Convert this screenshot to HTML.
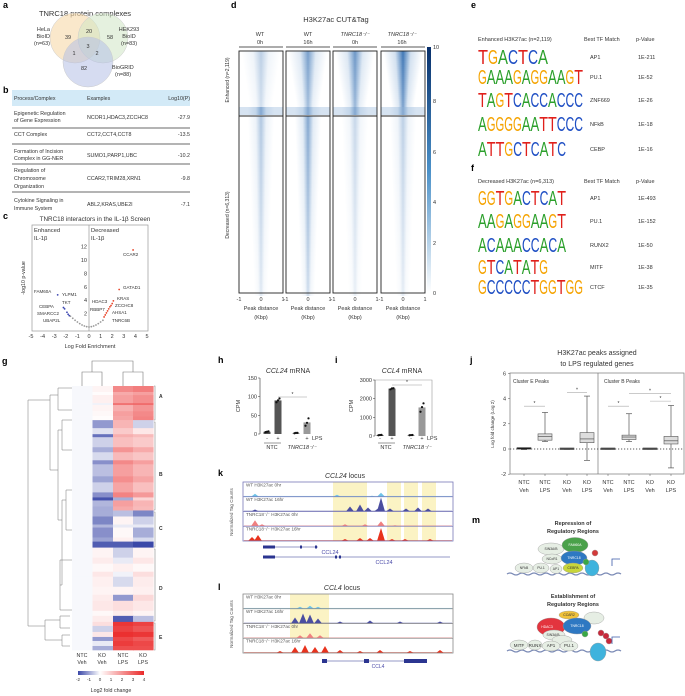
<!DOCTYPE html>
<html><head><meta charset="utf-8"><style>
html,body{margin:0;padding:0;background:#fff}
svg{display:block;font-family:"Liberation Sans",sans-serif}
</style></head><body>
<svg id="fig" width="685" height="696" viewBox="0 0 685 696" xmlns="http://www.w3.org/2000/svg">
<defs>
<linearGradient id="hg" x1="0" x2="1" y1="0" y2="0">
<stop offset="0" stop-color="#2a6db5" stop-opacity="0"/><stop offset="0.3" stop-color="#2a6db5" stop-opacity="0.25"/><stop offset="0.5" stop-color="#1f5fa8" stop-opacity="1"/><stop offset="0.7" stop-color="#2a6db5" stop-opacity="0.25"/><stop offset="1" stop-color="#2a6db5" stop-opacity="0"/>
</linearGradient>
<linearGradient id="cbar" x1="0" x2="0" y1="0" y2="1"><stop offset="0" stop-color="#08306b"/><stop offset="0.5" stop-color="#4a90c8"/><stop offset="1" stop-color="#ffffff"/></linearGradient>
<linearGradient id="gbar" x1="0" x2="1"><stop offset="0" stop-color="#3b48a8"/><stop offset="0.333" stop-color="#ffffff"/><stop offset="1" stop-color="#ea2a2a"/></linearGradient>
</defs>

<g font-size="5.5" fill="#333">
<text x="3" y="8" font-size="9" font-weight="bold" fill="#000">a</text>
<text x="85" y="16" font-size="7.5" text-anchor="middle">TNRC18 protein complexes</text>
<circle cx="75" cy="38" r="25" fill="#f6d9a8" fill-opacity="0.6" stroke="#ccc" stroke-width="0.5"/>
<circle cx="103" cy="38" r="25" fill="#cfe6c4" fill-opacity="0.55" stroke="#ccc" stroke-width="0.5"/>
<circle cx="88" cy="62" r="25" fill="#b5c0e6" fill-opacity="0.55" stroke="#ccc" stroke-width="0.5"/>
<text x="50" y="31" text-anchor="end">HeLa</text><text x="50" y="38" text-anchor="end">BioID</text><text x="50" y="45" text-anchor="end">(n=63)</text>
<text x="129" y="31" text-anchor="middle">HEK293</text><text x="129" y="38" text-anchor="middle">BioID</text><text x="129" y="45" text-anchor="middle">(n=83)</text>
<text x="68" y="39" text-anchor="middle">39</text><text x="89" y="33" text-anchor="middle">20</text><text x="110" y="39" text-anchor="middle">58</text>
<text x="74" y="55" text-anchor="middle">1</text><text x="88" y="48" text-anchor="middle">3</text><text x="97" y="55" text-anchor="middle">2</text>
<text x="84" y="70" text-anchor="middle">82</text><text x="112" y="69">BioGRID</text><text x="115" y="76">(n=88)</text>
</g>

<g font-size="5.3" fill="#333">
<text x="3" y="93" font-size="9" font-weight="bold" fill="#000">b</text>
<rect x="12" y="90" width="178" height="16" fill="#d3eaf7"/>
<text x="14" y="100">Process/Complex</text><text x="87" y="100">Examples</text><text x="190" y="100" text-anchor="end">Log10(P)</text>
<text x="14" y="115">Epigenetic Regulation</text><text x="14" y="122">of Gene Expression</text><text x="87" y="119">NCOR1,HDAC3,ZCCHC8</text><text x="190" y="119" text-anchor="end">-27.9</text>
<line x1="12" y1="128" x2="190" y2="128" stroke="#888" stroke-width="1.2"/>
<text x="14" y="136">CCT Complex</text><text x="87" y="136">CCT2,CCT4,CCT8</text><text x="190" y="136" text-anchor="end">-13.5</text>
<line x1="12" y1="144" x2="190" y2="144" stroke="#888" stroke-width="1.2"/>
<text x="14" y="153">Formation of Incision</text><text x="14" y="160">Complex in GG-NER</text><text x="87" y="157">SUMO1,PARP1,UBC</text><text x="190" y="157" text-anchor="end">-10.2</text>
<line x1="12" y1="164" x2="190" y2="164" stroke="#888" stroke-width="1.2"/>
<text x="14" y="172">Regulation of</text><text x="14" y="180">Chromosome</text><text x="14" y="188">Organization</text><text x="87" y="180">CCAR2,TRIM28,XRN1</text><text x="190" y="180" text-anchor="end">-9.8</text>
<line x1="12" y1="192" x2="190" y2="192" stroke="#888" stroke-width="1.2"/>
<text x="14" y="202">Cytokine Signaling in</text><text x="14" y="210">Immune System</text><text x="87" y="206">ABL2,KRAS,UBE2I</text><text x="190" y="206" text-anchor="end">-7.1</text>
</g>

<g id="volcano" font-size="5" fill="#333">
<text x="3" y="219" font-size="9" font-weight="bold" fill="#000">c</text>
<text x="95" y="221" font-size="6.3" text-anchor="middle">TNRC18 interactors in the IL-1β Screen</text>
<rect x="32" y="225" width="116" height="106" fill="none" stroke="#999" stroke-width="0.7"/>
<line x1="89" y1="225" x2="89" y2="331" stroke="#999" stroke-width="0.7"/>
<text x="34" y="232" font-size="5.8">Enhanced</text><text x="34" y="240" font-size="5.8">IL-1β</text>
<text x="91" y="232" font-size="5.8">Decreased</text><text x="91" y="240" font-size="5.8">IL-1β</text>
<text x="25" y="278" font-size="5.3" text-anchor="middle" transform="rotate(-90 25 278)">-log10 p-value</text>
<text x="90" y="348" font-size="5.5" text-anchor="middle">Log Fold Enrichment</text>
<g font-size="4.5">
<text x="123" y="256">CCAR2</text><text x="123" y="289">GATAD1</text><text x="117" y="300">KRAS</text><text x="115" y="307">ZCCHC8</text>
<text x="92" y="303">HDAC3</text><text x="90" y="311">RBBP7</text><text x="112" y="314">AHSA1</text><text x="112" y="322">TNRC6B</text>
<text x="34" y="293">FAM60A</text><text x="62" y="296">YLPM1</text><text x="62" y="304">TKT</text>
<text x="39" y="308">CEBPA</text><text x="37" y="315">SMARCC2</text><text x="43" y="322">UBAP2L</text>
</g>
</g>

<g id="heatg" font-size="5.3" fill="#333">
<text x="2" y="364" font-size="9" font-weight="bold" fill="#000">g</text>
<g stroke="#777" stroke-width="0.6" fill="none">
<path d="M92 372 V361 H133 V372"/><path d="M82 386 V372 H102 V386"/><path d="M123 386 V372 H143 V386"/>
</g>
<g stroke="#777" stroke-width="0.5" fill="none">
<path d="M50 400 H28 V626 H45"/><path d="M50 400 V395 H58 M50 400 V470 H58"/>
<path d="M58 395 V388 H66 M58 395 V410 H66"/><path d="M58 470 V430 H62 M58 470 V520 H62"/>
<path d="M62 430 V420 H68 M62 430 V450 H68"/><path d="M62 520 V500 H66 M62 520 V585 H60"/>
<path d="M66 500 V490 H70 M66 500 V530 H70"/><path d="M60 585 V560 H66 M60 585 V610 H66"/>
<path d="M45 626 V620 H60 M45 626 V640 H62"/><path d="M60 620 V616 H70 M60 620 V628 H70"/><path d="M62 640 V635 H70 M62 640 V646 H70"/>
<path d="M66 388 H72 M66 410 H72 M68 420 H72 M68 450 H72 M70 490 H72 M70 530 H72 M66 560 H72 M66 610 H72"/>
</g>
<text x="82" y="657" text-anchor="middle">NTC</text><text x="82" y="664" text-anchor="middle">Veh</text>
<text x="102" y="657" text-anchor="middle">KO</text><text x="102" y="664" text-anchor="middle">Veh</text>
<text x="123" y="657" text-anchor="middle">NTC</text><text x="123" y="664" text-anchor="middle">LPS</text>
<text x="143" y="657" text-anchor="middle">KO</text><text x="143" y="664" text-anchor="middle">LPS</text>
<rect x="78" y="671" width="66" height="4" fill="url(#gbar)"/>
<g font-size="4.5" text-anchor="middle"><text x="78" y="681">-2</text><text x="89" y="681">-1</text><text x="100" y="681">0</text><text x="111" y="681">1</text><text x="122" y="681">2</text><text x="133" y="681">3</text><text x="144" y="681">4</text></g>
<text x="111" y="692" text-anchor="middle">Log2 fold change</text>
<g font-size="5" font-weight="bold" fill="#333"><text x="159" y="398">A</text><text x="159" y="476">B</text><text x="159" y="530">C</text><text x="159" y="590">D</text><text x="159" y="639">E</text></g>
<g stroke="#888" stroke-width="0.6" fill="none"><path d="M154 386 H155 V420 H154"/><path d="M154 422 H155 V510 H154"/><path d="M154 512 H155 V547 H154"/><path d="M154 549 H155 V621 H154"/><path d="M154 623 H155 V650 H154"/></g>
</g>

<g id="pd" font-size="5.5" fill="#333">
<text x="231" y="8" font-size="9" font-weight="bold" fill="#000">d</text>
<text x="336" y="22" font-size="7.5" text-anchor="middle">H3K27ac CUT&amp;Tag</text>
<text x="260" y="36" text-anchor="middle">WT</text><text x="260" y="44" text-anchor="middle">0h</text>
<text x="308" y="36" text-anchor="middle">WT</text><text x="308" y="44" text-anchor="middle">16h</text>
<text x="355" y="36" text-anchor="middle" font-style="italic">TNRC18⁻/⁻</text><text x="355" y="44" text-anchor="middle">0h</text>
<text x="402" y="36" text-anchor="middle" font-style="italic">TNRC18⁻/⁻</text><text x="402" y="44" text-anchor="middle">16h</text>
<text x="229" y="80" text-anchor="middle" font-size="5" transform="rotate(-90 229 80)">Enhanced (n=2,119)</text>
<text x="229" y="215" text-anchor="middle" font-size="5" transform="rotate(-90 229 215)">Decreased (n=6,313)</text>
<rect x="427" y="47" width="4" height="246" fill="url(#cbar)"/>
<g font-size="5.5"><text x="433" y="49">10</text><text x="433" y="103">8</text><text x="433" y="154">6</text><text x="433" y="204">4</text><text x="433" y="245">2</text><text x="433" y="295">0</text></g>
</g>

<g id="motifs" font-size="5.5" fill="#333">
<text x="471" y="8" font-size="9" font-weight="bold" fill="#000">e</text>
<text x="478" y="41">Enhanced H3K27ac (n=2,119)</text><text x="584" y="41">Best TF Match</text><text x="636" y="41">p-Value</text>
<text x="471" y="171" font-size="9" font-weight="bold" fill="#000">f</text>
<text x="478" y="183">Decreased H3K27ac (n=6,313)</text><text x="584" y="183">Best TF Match</text><text x="636" y="183">p-Value</text>
</g>

<g id="bars" font-size="5.5" fill="#333">
<text x="218" y="363" font-size="9" font-weight="bold" fill="#000">h</text>
<text x="288" y="373" font-size="7" text-anchor="middle"><tspan font-style="italic">CCL24</tspan> mRNA</text>
<text x="335" y="363" font-size="9" font-weight="bold" fill="#000">i</text>
<text x="402" y="373" font-size="7" text-anchor="middle"><tspan font-style="italic">CCL4</tspan> mRNA</text>
<text x="240" y="406" text-anchor="middle" transform="rotate(-90 240 406)">CPM</text>
<text x="353" y="406" text-anchor="middle" transform="rotate(-90 353 406)">CPM</text>
<text x="312" y="440">LPS</text><text x="427" y="440">LPS</text>
<text x="272" y="449" text-anchor="middle">NTC</text><text x="302" y="449" text-anchor="middle" font-style="italic">TNRC18⁻/⁻</text>
<text x="386" y="449" text-anchor="middle">NTC</text><text x="417" y="449" text-anchor="middle" font-style="italic">TNRC18⁻/⁻</text>
<line x1="264" y1="443" x2="281" y2="443" stroke="#333" stroke-width="0.5"/><line x1="378" y1="443" x2="395" y2="443" stroke="#333" stroke-width="0.5"/>
<path d="M375 380 H432 V436" fill="none" stroke="#999" stroke-width="0.6"/>
</g>

<g id="boxj" font-size="5.5" fill="#333">
<text x="470" y="363" font-size="9" font-weight="bold" fill="#000">j</text>
<text x="597" y="355" font-size="7" text-anchor="middle">H3K27ac peaks assigned</text>
<text x="597" y="366" font-size="7" text-anchor="middle">to LPS regulated genes</text>
<rect x="510" y="373" width="174" height="101" fill="none" stroke="#777" stroke-width="0.7"/>
<line x1="598" y1="373" x2="598" y2="474" stroke="#777" stroke-width="0.7"/>
<text x="513" y="383" font-size="5">Cluster E Peaks</text><text x="604" y="383" font-size="5">Cluster B Peaks</text>
<text x="494" y="424" font-size="4.5" text-anchor="middle" transform="rotate(-90 494 424)">Log fold change (Log 2)</text>
</g>

<g id="loci" font-size="4.6" fill="#555">
<text x="218" y="476" font-size="9" font-weight="bold" fill="#000">k</text>
<text x="345" y="478" font-size="7" text-anchor="middle" fill="#333"><tspan font-style="italic">CCL24</tspan> locus</text>
<text x="218" y="590" font-size="9" font-weight="bold" fill="#000">l</text>
<text x="342" y="590" font-size="7" text-anchor="middle" fill="#333"><tspan font-style="italic">CCL4</tspan> locus</text>
<text x="233" y="512" text-anchor="middle" transform="rotate(-90 233 512)">Normalized Tag Counts</text>
<text x="233" y="624" text-anchor="middle" transform="rotate(-90 233 624)">Normalized Tag Counts</text>
</g>

<g id="cartoon" font-size="3.4" fill="#333">
<text x="472" y="523" font-size="9" font-weight="bold" fill="#000">m</text>
<text x="573" y="525" font-size="5.5" font-weight="bold" text-anchor="middle">Repression of</text>
<text x="573" y="533" font-size="5.5" font-weight="bold" text-anchor="middle">Regulatory Regions</text>
<text x="573" y="598" font-size="5.5" font-weight="bold" text-anchor="middle">Establishment of</text>
<text x="573" y="606" font-size="5.5" font-weight="bold" text-anchor="middle">Regulatory Regions</text>
<path d="M507 574 Q510 572 513 574 T519 574 T525 574 T531 574 T537 574 T543 574 T549 574 T555 574 T561 574 T567 574 T573 574 T579 574 T585 574 T591 574 T597 574 T603 574 T609 574 T615 574 T621 574" fill="none" stroke="#7a8ab5" stroke-width="1.3"/>
<path d="M507 651 Q510 649 513 651 T519 651 T525 651 T531 651 T537 651 T543 651 T549 651 T555 651 T561 651 T567 651 T573 651 T579 651 T585 651 T591 651 T597 651 T603 651 T609 651 T615 651 T621 651" fill="none" stroke="#7a8ab5" stroke-width="1.3"/>
<g stroke="#999" stroke-width="0.4">
<ellipse cx="551" cy="549" rx="13" ry="6" fill="#e6eee4"/><ellipse cx="575" cy="545" rx="13" ry="7.5" fill="#4aa14a"/>
<ellipse cx="552" cy="559" rx="10" ry="5" fill="#e6eee4"/><ellipse cx="574" cy="558" rx="13" ry="7" fill="#2e78c2"/>
<ellipse cx="573" cy="568" rx="10" ry="5" fill="#c8d63a"/>
<ellipse cx="524" cy="568" rx="9" ry="5" fill="#e6eee4"/><ellipse cx="541" cy="568" rx="8" ry="5" fill="#e6eee4"/><ellipse cx="556" cy="569" rx="6" ry="4.5" fill="#e6eee4"/>
<ellipse cx="592" cy="568" rx="7" ry="8" fill="#3fb3dd"/><circle cx="586" cy="562" r="3" fill="#39a845"/><circle cx="595" cy="553" r="3" fill="#d23a3a"/>
<ellipse cx="594" cy="618" rx="10" ry="6" fill="#e6eee4"/><ellipse cx="569" cy="615" rx="10" ry="4" fill="#f0c23a"/>
<ellipse cx="551" cy="627" rx="14" ry="9" fill="#e3343e"/><ellipse cx="577" cy="626" rx="14" ry="8" fill="#2e78c2"/>
<ellipse cx="554" cy="635" rx="11" ry="5" fill="#e6eee4"/><ellipse cx="562" cy="640" rx="10" ry="4.5" fill="#e6eee4"/>
<ellipse cx="519" cy="645" rx="9" ry="5" fill="#e6eee4"/><ellipse cx="535" cy="645" rx="7" ry="5" fill="#e6eee4"/><ellipse cx="551" cy="646" rx="9" ry="5" fill="#e6eee4"/><ellipse cx="569" cy="646" rx="9" ry="5" fill="#e6eee4"/>
<ellipse cx="598" cy="652" rx="8" ry="9" fill="#3fb3dd"/><circle cx="585" cy="634" r="3" fill="#39a845"/>
<circle cx="601" cy="633" r="3" fill="#c8283a"/><circle cx="606" cy="636" r="3" fill="#c8283a"/><circle cx="609" cy="641" r="3" fill="#c8283a"/>
</g>
<path d="M612 566 V559 H620" fill="none" stroke="#3a5aa8" stroke-width="0.8"/><path d="M612 644 V637 H620" fill="none" stroke="#3a5aa8" stroke-width="0.8"/>
<text x="551" y="550" text-anchor="middle">SIN3A/B</text><text x="575" y="546" text-anchor="middle" fill="#fff">FAM60A</text>
<text x="552" y="560" text-anchor="middle">NCoR1</text><text x="574" y="559" text-anchor="middle" fill="#fff">TNRC18</text>
<text x="573" y="569" text-anchor="middle">CEBPA</text><text x="524" y="569" text-anchor="middle">NFkB</text><text x="541" y="569" text-anchor="middle">PU.1</text><text x="556" y="570" text-anchor="middle">AP1</text>
<text x="569" y="616" text-anchor="middle">CCAR2</text><text x="547" y="628" text-anchor="middle" fill="#fff">HDAC3</text><text x="577" y="627" text-anchor="middle" fill="#fff">TNRC18</text>
<text x="553" y="636" text-anchor="middle">SIN3A/B</text><text x="519" y="647" text-anchor="middle" font-size="4.5">MITF</text><text x="535" y="647" text-anchor="middle" font-size="4.5">RUNX</text>
<text x="551" y="647" text-anchor="middle" font-size="4.5">AP1</text><text x="569" y="647" text-anchor="middle" font-size="4.5">PU.1</text>
</g>
</svg>

<script>
var NS='http://www.w3.org/2000/svg';
function mk(parent,tag,attrs,txt){var e=document.createElementNS(NS,tag);for(var k in attrs)e.setAttribute(k,attrs[k]);if(txt!==undefined)e.textContent=txt;parent.appendChild(e);return e;}

var grayX=[-1.6,-1.4,-1.2,-1.0,-0.8,-0.6,-0.4,-0.2,0,0.2,0.4,0.6,0.8,1.0,1.2];
var grayY=[1.6,1.3,1.0,0.75,0.5,0.3,0.15,0.05,0,0.05,0.15,0.3,0.5,0.75,1.0];
var redX=[3.8,2.6,2.1,2.0,1.9,1.8,1.7,1.6,1.5,1.4,1.3];
var redY=[11.5,5.6,3.9,3.5,3.2,3.0,2.7,2.4,2.1,1.8,1.5];
var blueX=[-2.7,-2.2,-2.1,-1.9,-1.8,-1.7];
var blueY=[4.8,2.9,2.7,2.2,1.9,1.7];
var volXTicks=[-5,-4,-3,-2,-1,0,1,2,3,4,5];
var volYTicks=[2,4,6,8,10,12];
var bandRows=[6,3,8,2,6,5,4, 8,6,3,10,5,8,4,12,6,10,5,3,6,4, 6,8,3,10,4,6, 10,6,8,5,10,8,6,10,5,6, 4,6,5,4,5,4];
var ntcVeh=[0,0,0,0,0,0,0, 0,0,0,0,0,0,0,0,0,0,0,0,0,0, 0,0,0,0,0,0, 0,0,0,0,0,0,0,0,0,0, 0,0,0,0,0,0];
var koVeh=[0.3,0.1,0.4,-0.2,0.3,0.2,0.1, -1.2,-0.4,-1.6,-0.6,-1.0,-0.5,-1.3,-0.8,-1.1,-0.6,-1.3,-1.9,-0.9,-1.0, -1.0,-1.4,-0.9,-1.3,-1.1,-1.8, 0.3,0.5,0.2,0.6,0.4,0.3,0.5,0.6,0.2,0.5, 0.8,-0.6,0.6,-1.2,-0.3,-1.0];
var ntcLps=[2.4,1.8,2.0,2.8,1.7,2.0,1.9, 1.6,1.2,1.7,1.4,2.2,1.5,2.4,2.0,2.3,1.9,2.5,-1.0,2.0,1.8, -0.8,0.3,-0.3,0.2,0.4,-1.8, -0.6,-0.3,0.4,-0.2,-0.5,0.3,-1.2,0.8,0.5,-1.8, 3.8,3.6,3.9,3.5,3.7,3.4];
var koLps=[2.6,2.0,2.3,2.9,2.2,2.4,2.5, -0.6,0.6,1.5,1.2,1.8,1.3,2.0,1.6,1.9,1.4,2.1,1.0,1.6,1.5, -1.4,-0.6,-0.3,-1.0,-0.5,-2.0, 0.3,0.6,0.2,0.8,0.5,0.4,0.9,0.6,0.3,-0.8, 3.6,3.3,3.8,3.2,3.5,3.4];
var barGroups=['NTC -','NTC +','KO -','KO +'];
var ccl24Mean=[6,90,2.5,31];
var ccl24Pts=[[5,6,7],[85,90,95],[2,3,3],[22,30,42]];
var ccl4Mean=[50,2540,48,1530];
var ccl4Pts=[[40,55,60],[2500,2550,2560],[40,50,55],[1300,1550,1750]];
var ccl24Ticks=[0,50,100,150];
var ccl4Ticks=[0,1000,2000,3000];
var boxCats=['NTC Veh','NTC LPS','KO Veh','KO LPS','NTC Veh','NTC LPS','KO Veh','KO LPS'];
var boxMin=[-0.05,0.6,-0.03,-0.9,-0.02,0.6,-0.02,-1.5];
var boxQ1=[-0.05,0.7,-0.02,0.5,-0.02,0.75,-0.02,0.4];
var boxMed=[0,1.0,0,0.8,0,0.95,0,0.65];
var boxQ3=[0.05,1.2,0.02,1.3,0.02,1.1,0.02,1.0];
var boxMax=[0.05,2.9,0.03,4.2,0.02,2.8,0.02,3.45];
var boxYTicks=[-2,0,2,4,6];
var ccl24Peaks=[[[255,3],[337,2],[381,4],[372,1]],[[255,2],[350,5],[360,7],[368,4],[378,3],[381,14],[390,3],[406,3],[418,4],[428,3]],[[255,6],[262,2],[345,2],[365,2],[381,5],[395,1]],[[252,4],[258,6],[345,2],[360,3],[370,3],[381,13],[392,2],[405,2],[430,2]]];
var ccl4Peaks=[[[300,2],[310,3],[318,2]],[[295,6],[303,10],[310,9],[318,5],[340,2],[370,3],[400,2],[440,2]],[[300,3],[310,5],[320,3]],[[280,2],[295,6],[305,8],[315,6],[325,7],[340,3],[360,2],[380,3],[410,2],[440,3]]];

(function(){
 var g=document.getElementById('volcano');
 function X(v){return 89+v*11.6;} function Y(v){return 327-v*6.7;}
 volXTicks.forEach(function(t){var e=mk(g,'text',{x:X(t),y:338,'text-anchor':'middle','font-size':5.5},String(t));
 
 });
 volYTicks.forEach(function(t){var e=mk(g,'text',{x:87,y:Y(t)+2,'text-anchor':'end','font-size':5.5},String(t));
 
 });
 function pts(xs,ys,c){xs.forEach(function(x,i){var e=mk(g,'circle',{cx:X(x),cy:Y(ys[i]),r:0.9,fill:c});
 
 });}
 pts(grayX,grayY,'#999');pts(redX,redY,'#e8452a');pts(blueX,blueY,'#3a44b0');
})();

(function(){
 var g=document.getElementById('heatg');
 function col(v){var a,b,t;if(v<0){t=Math.min(1,-v/2);a=[255,255,255];b=[59,72,168];}else{t=Math.min(1,v/4);a=[255,255,255];b=[234,42,42];}
 t=Math.pow(t,1.15);return 'rgb('+[0,1,2].map(function(i){return Math.round(a[i]+(b[i]-a[i])*t);}).join(',')+')';}
 var total=bandRows.reduce(function(s,x){return s+x;},0);var sc=264/total;var y=386;
 var cols=[ntcVeh,koVeh,ntcLps,koLps];var xs=[72,92.5,113,133];
 bandRows.forEach(function(h,i){cols.forEach(function(arr,j){var e=mk(g,'rect',{x:xs[j],y:y,width:20.6,height:h*sc+0.3,fill:j===0?'#f7f8fc':col(arr[i])});
 
 });y+=h*sc;});
})();

(function(){
 var g=document.getElementById('pd');
 var xs=[239,286,333,381];var W=44;
 var enh=[0.3,0.6,0.65,0.85];var dec=[0.35,0.55,0.25,0.3];
 xs.forEach(function(x0,c){
  var y=51,i,t;
  for(i=0;i<28;i++){t=i/28;mk(g,'rect',{x:x0+W*(0.05+0.2*t),y:y,width:W*(0.9-0.4*t),height:2,fill:'url(#hg)',opacity:enh[c]*(1-0.3*t)});y+=2;}
  mk(g,'rect',{x:x0,y:107,width:W,height:8,fill:'#5b8fc9',opacity:0.25});
  mk(g,'rect',{x:x0+W*0.2,y:107,width:W*0.6,height:8,fill:'url(#hg)',opacity:0.45});
  y=116;
  for(i=0;i<45;i++){t=i/45;mk(g,'rect',{x:x0+W*(0.2+0.15*t),y:y,width:W*(0.6-0.3*t),height:4,fill:'url(#hg)',opacity:dec[c]*(1-0.6*t)});y+=4;}
  var fr=mk(g,'rect',{x:x0,y:51,width:W,height:242,fill:'none',stroke:'#222','stroke-width':0.9});
  
  
  mk(g,'line',{x1:x0,y1:116,x2:x0+W,y2:116,stroke:'#222','stroke-width':0.9});
  mk(g,'line',{x1:x0,y1:47,x2:x0+W,y2:47,stroke:'#222','stroke-width':0.7});
  [['-1',x0],['0',x0+W/2],['1',x0+W]].forEach(function(p){mk(g,'text',{x:p[1],y:301,'text-anchor':'middle','font-size':5.5},p[0]);});
  mk(g,'text',{x:x0+W/2,y:310,'text-anchor':'middle','font-size':5.5},'Peak distance');
  mk(g,'text',{x:x0+W/2,y:319,'text-anchor':'middle','font-size':5.5},'(Kbp)');
 });
})();

(function(){
 var g=document.getElementById('motifs');
 var C={A:'#2ca02c',C:'#1f4fc4',G:'#f5a300',T:'#e0201b'};
 var rows=[['TGACTCA',57,70,'AP1','1E-211'],['GAAAGAGGAAGT',77,105,'PU.1','1E-52'],['TAGTCACCACCC',100,105,'ZNF669','1E-26'],['AGGGGAATTCCC',124,105,'NFkB','1E-18'],['ATTGCTCATC',149,88,'CEBP','1E-16'],
 ['GGTGACTCAT',198,88,'AP1','1E-493'],['AAGAGGAAGT',221,88,'PU.1','1E-152'],['ACAAACCACA',245,88,'RUNX2','1E-50'],['GTCATATG',267,70,'MITF','1E-38'],['GCCCCCTGGTGG',287,105,'CTCF','1E-35']];
 rows.forEach(function(r){var s=r[0],w=r[2]/s.length;
  for(var i=0;i<s.length;i++){mk(g,'text',{x:478+i*w,y:r[1]+7,'font-size':20,fill:C[s[i]],textLength:w,lengthAdjust:'spacingAndGlyphs'},s[i]);}
  mk(g,'text',{x:590,y:r[1]+2},r[3]);mk(g,'text',{x:638,y:r[1]+2},r[4]);
 });
})();

(function(){
 var g=document.getElementById('bars');
 function chart(ax,y0,top,maxv,means,pts,ticks,bx,star){
  function Y(v){return y0-(y0-top)*v/maxv;}
  mk(g,'line',{x1:ax,y1:top,x2:ax,y2:y0,stroke:'#333','stroke-width':0.6});
  ticks.forEach(function(t){mk(g,'line',{x1:ax-2,y1:Y(t),x2:ax,y2:Y(t),stroke:'#333','stroke-width':0.5});mk(g,'text',{x:ax-3,y:Y(t)+2,'text-anchor':'end','font-size':5.5},String(t));});
  var fills=['#555','#555','#999','#999'];
  means.forEach(function(m,i){var e=mk(g,'rect',{x:bx[i]-3.5,y:Y(m),width:7,height:y0-Y(m),fill:fills[i]});
  
  
  pts[i].forEach(function(p,k){mk(g,'circle',{cx:bx[i]-1.5+k*1.5,cy:Y(p),r:1.1,fill:'#111'});});
  mk(g,'text',{x:bx[i],y:440,'text-anchor':'middle','font-size':5.5},i%2?'+':'-');});
  mk(g,'line',{x1:bx[1],y1:star,x2:bx[3],y2:star,stroke:'#999','stroke-width':0.6});
  mk(g,'text',{x:(bx[1]+bx[3])/2,y:star-1,'text-anchor':'middle','font-size':5},'*');
 }
 chart(260,434,378,150,ccl24Mean,ccl24Pts,ccl24Ticks,[267,278,296,307],397);
 chart(375,436,380,3000,ccl4Mean,ccl4Pts,ccl4Ticks,[380,392,411,422],385);
})();

(function(){
 var g=document.getElementById('boxj');
 function Y(v){return 449-12.6*v;}
 var xs=[524,545,567,587,608,629,650,671];
 boxYTicks.forEach(function(t){mk(g,'line',{x1:508,y1:Y(t),x2:510,y2:Y(t),stroke:'#555','stroke-width':0.5});mk(g,'text',{x:506,y:Y(t)+2,'text-anchor':'end'},String(t));});
 mk(g,'line',{x1:510,y1:Y(0),x2:684,y2:Y(0),stroke:'#222','stroke-width':0.8,'stroke-dasharray':'1.2,1.8'});
 boxCats.forEach(function(c,i){var x=xs[i];
  mk(g,'line',{x1:x,y1:Y(boxMax[i]),x2:x,y2:Y(boxMin[i]),stroke:'#555','stroke-width':0.7});
  mk(g,'line',{x1:x-3,y1:Y(boxMax[i]),x2:x+3,y2:Y(boxMax[i]),stroke:'#555','stroke-width':0.7});
  mk(g,'line',{x1:x-3,y1:Y(boxMin[i]),x2:x+3,y2:Y(boxMin[i]),stroke:'#555','stroke-width':0.7});
  var flat=(boxQ3[i]-boxQ1[i])<0.2;
  var e=mk(g,'rect',{x:x-7,y:Y(boxQ3[i])-(flat?0.8:0),width:14,height:Math.max(1.6,Y(boxQ1[i])-Y(boxQ3[i])),fill:flat?(i===0?'#111':'#444'):'#ddd',stroke:'#555','stroke-width':0.6});
  
  
  if(!flat)mk(g,'line',{x1:x-7,y1:Y(boxMed[i]),x2:x+7,y2:Y(boxMed[i]),stroke:'#555','stroke-width':0.7});
  mk(g,'line',{x1:x,y1:474,x2:x,y2:476,stroke:'#555','stroke-width':0.5});
  var p=c.split(' ');mk(g,'text',{x:x,y:484,'text-anchor':'middle'},p[0]);mk(g,'text',{x:x,y:492,'text-anchor':'middle'},p[1]);
 });
 [[0,1,3.4],[2,3,4.5],[4,5,3.4],[6,7,3.8],[5,7,4.4]].forEach(function(s){mk(g,'line',{x1:xs[s[0]],y1:Y(s[2]),x2:xs[s[1]],y2:Y(s[2]),stroke:'#aaa','stroke-width':0.6});mk(g,'text',{x:(xs[s[0]]+xs[s[1]])/2,y:Y(s[2])-1,'text-anchor':'middle','font-size':5},'*');});
})();

(function(){
 var g=document.getElementById('loci');
 var colors=['#6ec3e8','#4b4ea0','#f08080','#e8331e'];
 var lab=['WT H3K27ac 0hr','WT H3K27ac 16hr','TNRC18⁻/⁻ H3K27ac 0hr','TNRC18⁻/⁻ H3K27ac 16hr'];
 function locus(top,hl,peaks,boxCol){
  hl.forEach(function(h){mk(g,'rect',{x:h[0],y:top,width:h[1]-h[0],height:h[2],fill:'#fbf3c4'});});
  for(var t=0;t<4;t++){var base=top+14.75*(t+1);
   peaks[t].forEach(function(p){var e=mk(g,'path',{d:'M'+(p[0]-4)+' '+base+' L'+p[0]+' '+(base-p[1])+' L'+(p[0]+4)+' '+base+' Z',fill:colors[t]});
   
   });
   mk(g,'rect',{x:244,y:base-0.8,width:208,height:0.8,fill:colors[t],opacity:0.7});
   mk(g,'text',{x:246,y:base-10.5},lab[t]);
   if(t<3)mk(g,'line',{x1:243,y1:base,x2:453,y2:base,stroke:boxCol,'stroke-width':0.8});
  }
  mk(g,'rect',{x:243,y:top,width:210,height:59,fill:'none',stroke:boxCol,'stroke-width':0.8});
 }
 locus(482,[[333,367,59],[387,401,59],[404,418,59],[422,436,59]],ccl24Peaks,'#7878b8');
 locus(594,[[290,329,44]],ccl4Peaks,'#888');
 var gm='#2b3590';
 mk(g,'line',{x1:263,y1:547,x2:318,y2:547,stroke:gm,'stroke-width':0.6});mk(g,'rect',{x:263,y:545.5,width:12,height:3,fill:gm});mk(g,'rect',{x:300,y:545.5,width:2,height:3,fill:gm});mk(g,'rect',{x:315,y:545.5,width:2,height:3,fill:gm});
 mk(g,'text',{x:330,y:554,'text-anchor':'middle',fill:'#4a4aa8','font-size':5.5},'CCL24');
 mk(g,'line',{x1:263,y1:557,x2:450,y2:557,stroke:gm,'stroke-width':0.6});mk(g,'rect',{x:263,y:555.5,width:12,height:3,fill:gm});mk(g,'rect',{x:335,y:555.5,width:2,height:3,fill:gm});mk(g,'rect',{x:339,y:555.5,width:2,height:3,fill:gm});
 mk(g,'text',{x:384,y:564,'text-anchor':'middle',fill:'#4a4aa8','font-size':5.5},'CCL24');
 mk(g,'line',{x1:322,y1:661,x2:427,y2:661,stroke:gm,'stroke-width':0.6});mk(g,'rect',{x:322,y:659,width:5,height:4,fill:gm});mk(g,'rect',{x:364,y:659,width:5,height:4,fill:gm});mk(g,'rect',{x:404,y:659,width:23,height:4,fill:gm});
 mk(g,'text',{x:378,y:668,'text-anchor':'middle',fill:'#4a4aa8','font-size':5},'CCL4');
})();
</script>
</body></html>
